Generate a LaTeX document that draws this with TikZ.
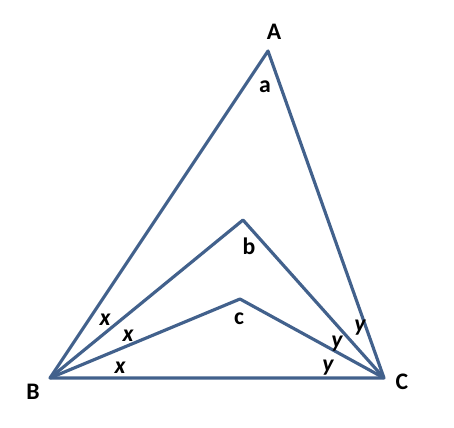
\documentclass[tikz,border=0pt]{standalone}
\usepackage{fontspec}
\setmainfont{Carlito}
\begin{document}
\begin{tikzpicture}[x=0.02cm,y=-0.02cm,line join=round,
  edge/.style={draw=tri,line width=1.8pt},
  lbl/.style={font=\fontsize{13.5}{15}\selectfont\bfseries},
  ang/.style={font=\fontsize{13.5}{15}\selectfont\bfseries\itshape}]
  \definecolor{tri}{HTML}{42618C}
  \useasboundingbox (0,0) rectangle (454,427);
  \coordinate (A) at (268,51);
  \coordinate (B) at (50,378);
  \coordinate (C) at (384,378);
  \coordinate (b) at (243,220);
  \coordinate (c) at (240,299);
  \draw[edge] (A) -- (B) -- (C) -- cycle;
  \draw[edge] (B) -- (b) -- (C);
  \draw[edge] (B) -- (c) -- (C);
  \node[lbl] (lA) at (274,32) {A};
  \node[lbl] (lB) at (33,392) {B};
  \node[lbl] (lC) at (402,382) {C};
  \node[lbl] (la) at (265,87) {a};
  \node[lbl] (lb) at (249,246) {b};
  \node[lbl] (lc) at (239,319) {c};
  \node[ang] (x1) at (105,320) {x};
  \node[ang] (x2) at (128,336) {x};
  \node[ang] (x3) at (120,368) {x};
  \node[ang] (y1) at (360,328) {y};
  \node[ang] (y2) at (337,344) {y};
  \node[ang] (y3) at (328,368) {y};
\end{tikzpicture}
\end{document}
